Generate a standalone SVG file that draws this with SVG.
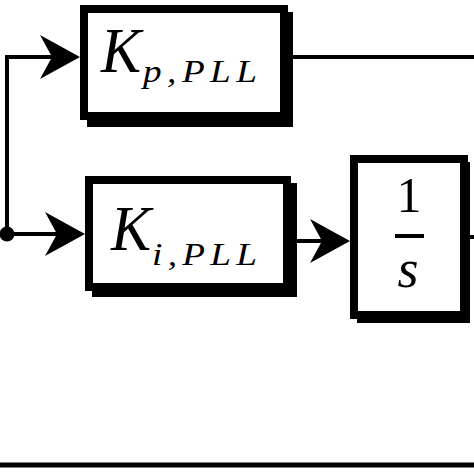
<svg xmlns="http://www.w3.org/2000/svg" width="474" height="474" viewBox="0 0 474 474">
<style>
.shadow{fill:#000}
.box{fill:#fff;stroke:#000;stroke-width:8}
.wire{fill:none;stroke:#000;stroke-width:4}
.t{font-family:"Liberation Serif","DejaVu Serif",serif;font-style:italic;fill:#000}
.n{font-family:"Liberation Serif","DejaVu Serif",serif;fill:#000}
</style>
<defs>
<marker id="arr" markerUnits="userSpaceOnUse" viewBox="-12 -23 40 46" markerWidth="40" markerHeight="46" refX="0" refY="0" orient="auto">
<path d="M28,0 L-12,-22 L0,0 L-12,22 Z" fill="#000"/>
</marker>
</defs>
<rect width="474" height="474" fill="#fff"/>
<g id="connectors">
<path class="wire" d="M7,234 V57 H52" marker-end="url(#arr)"/>
<path class="wire" d="M7,234 H57" marker-end="url(#arr)"/>
<path class="wire" d="M297,241 H322" marker-end="url(#arr)"/>
<path class="wire" d="M293,57 H474"/>
<path class="wire" d="M470,237 H474"/>
<path class="wire" d="M0,465 H474" style="stroke-width:5"/>
<circle cx="7" cy="234" r="7.5" fill="#000"/>
</g>
<g id="kp">
<rect class="shadow" x="87" y="12" width="206" height="115"/>
<rect class="box" x="84" y="9" width="200" height="107"/>
<text class="t" x="101" y="72" font-size="64" textLength="40" lengthAdjust="spacingAndGlyphs">K</text>
<text class="t" transform="translate(143,82) scale(1.2,1)" font-size="31" textLength="95" lengthAdjust="spacing">p,PLL</text>
</g>
<g id="ki">
<rect class="shadow" x="92" y="183" width="205" height="114"/>
<rect class="box" x="89" y="180" width="198" height="107"/>
<text class="t" x="111" y="250" font-size="64" textLength="40" lengthAdjust="spacingAndGlyphs">K</text>
<text class="t" transform="translate(152,265) scale(1.2,1)" font-size="31" textLength="87.5" lengthAdjust="spacing">i,PLL</text>
</g>
<g id="integrator">
<rect class="shadow" x="357" y="162" width="113" height="161"/>
<rect class="box" x="354" y="159" width="110" height="156"/>
<text class="n" x="409" y="212" font-size="50" text-anchor="middle">1</text>
<rect x="395" y="234" width="29" height="4" fill="#000"/>
<text class="t" x="408" y="287" font-size="54" text-anchor="middle">s</text>
</g>
</svg>
